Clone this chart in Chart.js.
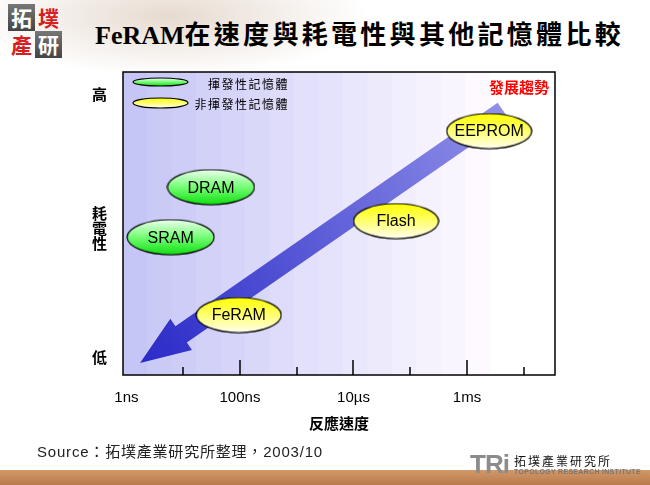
<!DOCTYPE html>
<html>
<head>
<meta charset="utf-8">
<script src="https://cdn.jsdelivr.net/npm/chart.js@4.4.0/dist/chart.umd.min.js"></script>
<style>
  html, body { margin: 0; padding: 0; background: #fff; }
  #page { position: relative; width: 650px; height: 485px; overflow: hidden; background: #fff; }
  #map { position: absolute; left: 0; top: 0; width: 650px; height: 90px;
    background: radial-gradient(ellipse 200px 60px at 170px 16px, rgba(220, 203, 188, 0.7), rgba(255, 255, 255, 0) 100%); }
  #logo { position: absolute; left: 8px; top: 4px; width: 54px; height: 54px; display: grid;
    grid-template-columns: 27px 27px; grid-template-rows: 27px 27px; }
  #logo div { font: bold 21px 'Noto Sans CJK TC', sans-serif; line-height: 27px; text-align: center; }
  #logo .dark { background: linear-gradient(#777, #444); color: #fff; }
  #logo .red { color: #d42020; }
  #title { position: absolute; left: 95px; top: 23px; white-space: nowrap; color: #000;
    font: bold 26px 'Liberation Serif', 'Noto Sans CJK TC', serif; line-height: 26px; }
  #title span { letter-spacing: 3.3px; }
  #source { position: absolute; left: 37px; top: 440px; white-space: nowrap; color: #222;
    font: 15px 'Liberation Sans', 'Noto Sans CJK TC', sans-serif; letter-spacing: 0.8px; }
  #bar { position: absolute; left: 0; top: 470px; width: 650px; height: 15px;
    background: linear-gradient(#d29868, #b97a4c); }
  #tri { position: absolute; left: 470px; top: 451px; color: #8c8c8c;
    font: bold 26px 'Liberation Sans', sans-serif; line-height: 26px; letter-spacing: -1px; }
  #triName { position: absolute; left: 514px; top: 454px; color: #111;
    font: 12px 'Noto Sans CJK TC', sans-serif; line-height: 13px; letter-spacing: 2px; }
  #triEn { position: absolute; left: 514px; top: 468px; color: #777;
    font: bold 7px 'Liberation Sans', sans-serif; line-height: 8px; letter-spacing: 0.3px; }
  canvas { position: absolute; left: 0; top: 0; }
</style>
</head>
<body>
<div id="page">
  <div id="map"></div>
  <div id="logo"><div class="dark">拓</div><div class="red">墣</div><div class="red">產</div><div class="dark">研</div></div>
  <div id="title">FeRAM<span>在速度與耗電性與其他記憶體比較</span></div>
  <canvas id="memChart" width="650" height="485"></canvas>
  <div id="source">Source：拓墣產業研究所整理，2003/10</div>
  <div id="bar"></div>
  <div id="tri">TRi</div>
  <div id="triName">拓墣產業研究所</div>
  <div id="triEn">TOPOLOGY RESEARCH INSTITUTE</div>
</div>
<script>
// x axis is log10(response time / 1ns), y axis is relative power use (0 = low, 100 = high)
const xTickValues = [0, 2, 4, 6];
const xTickLabels = ['1ns', '100ns', '10µs', '1ms'];
const xMajorTicks = [2, 4, 6];
const xMinorTicks = [1, 3, 5, 7];
const yTickValues = [6, 48.5, 92.5];
const yTickLabels = ['低', ['耗', '電', '性'], '高'];

const volatileNames = ['DRAM', 'SRAM'];
const volatileSpeed = [1.49, 0.78];
const volatilePower = [62, 45.5];

const nonVolatileNames = ['FeRAM', 'Flash', 'EEPROM'];
const nonVolatileSpeed = [1.98, 4.75, 6.39];
const nonVolatilePower = [19.8, 50.8, 80.5];

const legendNames = ['揮發性記憶體', '非揮發性記憶體'];
const trendLabel = '發展趨勢';
const trendFrom = [6.64, 87.1];
const trendTo = [0.24, 4.0];

function makeEllipse(w, h, stops) {
    const c = document.createElement('canvas');
    c.width = w + 2;
    c.height = h + 2;
    const g = c.getContext('2d');
    const grad = g.createLinearGradient(0, 1, 0, h + 1);
    stops.forEach(s => grad.addColorStop(s[0], s[1]));
    g.beginPath();
    g.ellipse(c.width / 2, c.height / 2, w / 2, h / 2, 0, 0, Math.PI * 2);
    g.fillStyle = grad;
    g.fill();
    g.lineWidth = 1.2;
    g.strokeStyle = '#000';
    g.stroke();
    return c;
}

const greenStops = [[0, '#eefff0'], [0.45, '#80ff80'], [1, '#10e010']];
const yellowStops = [[0, '#ffff00'], [0.5, '#ffff70'], [1, '#fffff0']];
const greenBig = makeEllipse(87, 35, greenStops);
const yellowBig = makeEllipse(85, 35, yellowStops);
const greenSmall = makeEllipse(55, 8, greenStops);
const yellowSmall = makeEllipse(55, 10, yellowStops);

const toPoints = (xs, ys) => xs.map((v, i) => ({ x: v, y: ys[i] }));

const memoryPlugin = {
    id: 'memoryPlugin',
    beforeDatasetsDraw(chart) {
        const { ctx, chartArea: a, scales: { x, y } } = chart;
        ctx.save();
        // stepped lavender-to-white background
        const fadeEnd = x.getPixelForValue(6.4);
        const steps = 15;
        const w = (fadeEnd - a.left) / steps;
        ctx.fillStyle = '#fff';
        ctx.fillRect(a.left, a.top, a.width, a.height);
        for (let i = 0; i < steps; i++) {
            const t = i / (steps - 1);
            const r = Math.round(198 + (253 - 198) * t);
            const g = Math.round(198 + (249 - 198) * t);
            const b = Math.round(246 + (255 - 246) * t);
            ctx.fillStyle = `rgb(${r},${g},${b})`;
            ctx.fillRect(a.left + i * w, a.top, w + 0.5, a.height);
        }

        // trend arrow
        const x0 = x.getPixelForValue(trendFrom[0]), y0 = y.getPixelForValue(trendFrom[1]);
        const x1 = x.getPixelForValue(trendTo[0]), y1 = y.getPixelForValue(trendTo[1]);
        const len = Math.hypot(x1 - x0, y1 - y0);
        const ux = (x1 - x0) / len, uy = (y1 - y0) / len;
        const px = -uy, py = ux;
        const sw = 10, hw = 19, hl = 50;
        const bx = x1 - ux * hl, by = y1 - uy * hl;
        ctx.beginPath();
        ctx.moveTo(x0 + px * sw, y0 + py * sw);
        ctx.lineTo(bx + px * sw, by + py * sw);
        ctx.lineTo(bx + px * hw, by + py * hw);
        ctx.lineTo(x1, y1);
        ctx.lineTo(bx - px * hw, by - py * hw);
        ctx.lineTo(bx - px * sw, by - py * sw);
        ctx.lineTo(x0 - px * sw, y0 - py * sw);
        ctx.closePath();
        const grad = ctx.createLinearGradient(x0, y0, x1, y1);
        grad.addColorStop(0, '#9090e8');
        grad.addColorStop(1, '#2a2ac8');
        ctx.fillStyle = grad;
        ctx.fill();
        ctx.restore();
    },
    afterDatasetsDraw(chart) {
        const { ctx, chartArea: a, scales: { x } } = chart;
        ctx.save();
        // names inside the ellipses
        ctx.fillStyle = '#000';
        ctx.font = '16px "Liberation Sans", Arial, sans-serif';
        ctx.textAlign = 'center';
        ctx.textBaseline = 'middle';
        const names = [volatileNames, nonVolatileNames];
        chart.data.datasets.forEach((ds, di) => {
            chart.getDatasetMeta(di).data.forEach((el, i) => {
                ctx.fillText(names[di][i], el.x, el.y + 1);
            });
        });

        // legend in the top-left corner
        ctx.drawImage(greenSmall, a.left + 9, a.top + 5);
        ctx.drawImage(yellowSmall, a.left + 9, a.top + 25);
        ctx.font = '12px "Noto Sans CJK TC", sans-serif';
        ctx.textAlign = 'right';
        ctx.letterSpacing = '1.5px';
        ctx.fillText(legendNames[0], a.left + 166, a.top + 12);
        ctx.fillText(legendNames[1], a.left + 166, a.top + 32);
        ctx.letterSpacing = '0px';

        // trend label
        ctx.fillStyle = '#ff0000';
        ctx.font = 'bold 15px "Noto Sans CJK TC", sans-serif';
        ctx.fillText(trendLabel, a.right - 6, a.top + 15);

        // frame and inner ticks
        ctx.strokeStyle = '#000';
        ctx.lineWidth = 1.5;
        ctx.strokeRect(a.left, a.top, a.width, a.height);
        ctx.beginPath();
        xMajorTicks.forEach(v => {
            const p = Math.round(x.getPixelForValue(v));
            ctx.moveTo(p, a.bottom);
            ctx.lineTo(p, a.bottom - 15);
        });
        xMinorTicks.forEach(v => {
            const p = Math.round(x.getPixelForValue(v));
            ctx.moveTo(p, a.bottom);
            ctx.lineTo(p, a.bottom - 8);
        });
        ctx.stroke();
        ctx.restore();
    }
};

new Chart(document.getElementById('memChart'), {
    type: 'scatter',
    data: {
        datasets: [{
            label: legendNames[0],
            data: toPoints(volatileSpeed, volatilePower),
            pointStyle: greenBig,
            pointRadius: 20
        }, {
            label: legendNames[1],
            data: toPoints(nonVolatileSpeed, nonVolatilePower),
            pointStyle: yellowBig,
            pointRadius: 20
        }]
    },
    options: {
        responsive: false,
        animation: false,
        events: [],
        layout: { padding: { left: 70, top: 72, right: 95, bottom: 53 } },
        plugins: { legend: { display: false }, tooltip: { enabled: false } },
        scales: {
            x: {
                type: 'linear',
                min: -0.06,
                max: 7.55,
                grid: { display: false, drawTicks: false },
                border: { display: false },
                afterBuildTicks: s => { s.ticks = xTickValues.map(v => ({ value: v })); },
                afterFit: s => { s.height = 57; },
                ticks: {
                    callback: (v, i) => xTickLabels[i],
                    color: '#000',
                    font: { family: '"Liberation Sans", Arial, sans-serif', size: 15 },
                    padding: 14,
                    maxRotation: 0,
                    autoSkip: false
                },
                title: {
                    display: true,
                    text: '反應速度',
                    color: '#000',
                    font: { family: '"Noto Sans CJK TC", sans-serif', size: 15, weight: 'bold' },
                    padding: 0
                }
            },
            y: {
                type: 'linear',
                min: 0,
                max: 100,
                grid: { display: false, drawTicks: false },
                border: { display: false },
                afterBuildTicks: s => { s.ticks = yTickValues.map(v => ({ value: v })); },
                afterFit: s => { s.width = 53; },
                ticks: {
                    callback: (v, i) => yTickLabels[i],
                    color: '#000',
                    font: { family: '"Noto Sans CJK TC", sans-serif', size: 15, weight: 'bold', lineHeight: 1.0 },
                    padding: 16
                }
            }
        }
    },
    plugins: [memoryPlugin]
});
</script>
</body>
</html>
